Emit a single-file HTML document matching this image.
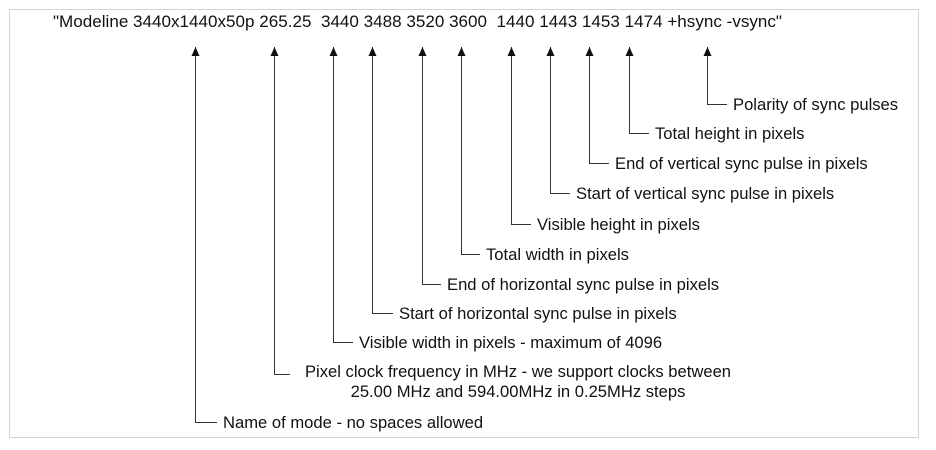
<!DOCTYPE html>
<html><head><meta charset="utf-8"><style>
html,body{margin:0;padding:0;background:#fff;width:936px;height:450px;overflow:hidden}
svg{display:block}
text{font-family:"Liberation Sans",Arial,sans-serif;font-size:16.6px;fill:#111;white-space:pre}
</style></head><body>
<svg width="936" height="450" viewBox="0 0 936 450">
<rect x="9.5" y="9.5" width="909" height="428" fill="#fff" stroke="#d4d4d4" stroke-width="1"/>
<text x="53" y="27" textLength="729" lengthAdjust="spacingAndGlyphs" xml:space="preserve">"Modeline 3440x1440x50p 265.25  3440 3488 3520 3600  1440 1443 1453 1474 +hsync -vsync"</text>
<g stroke="#333" stroke-width="1" fill="none">
<path d="M195.5,47 V422.5 H217" />
<path d="M274.5,47 V374.5 H290" />
<path d="M333.5,47 V342.5 H353" />
<path d="M372.5,47 V313.5 H393" />
<path d="M422.5,47 V284.5 H441" />
<path d="M461.5,47 V254.5 H480" />
<path d="M511.5,47 V224.5 H531" />
<path d="M550.5,47 V193.5 H570" />
<path d="M589.5,47 V163.5 H609" />
<path d="M629.5,47 V133.5 H649" />
<path d="M707.5,47 V104.5 H727" />
</g>
<g fill="#111">
<path d="M191.5,56 L195.5,47 L199.5,56 Z"/>
<path d="M270.5,56 L274.5,47 L278.5,56 Z"/>
<path d="M329.5,56 L333.5,47 L337.5,56 Z"/>
<path d="M368.5,56 L372.5,47 L376.5,56 Z"/>
<path d="M418.5,56 L422.5,47 L426.5,56 Z"/>
<path d="M457.5,56 L461.5,47 L465.5,56 Z"/>
<path d="M507.5,56 L511.5,47 L515.5,56 Z"/>
<path d="M546.5,56 L550.5,47 L554.5,56 Z"/>
<path d="M585.5,56 L589.5,47 L593.5,56 Z"/>
<path d="M625.5,56 L629.5,47 L633.5,56 Z"/>
<path d="M703.5,56 L707.5,47 L711.5,56 Z"/>
</g>
<text x="733" y="110">Polarity of sync pulses</text>
<text x="655" y="139">Total height in pixels</text>
<text x="615" y="169">End of vertical sync pulse in pixels</text>
<text x="576" y="199">Start of vertical sync pulse in pixels</text>
<text x="537" y="230">Visible height in pixels</text>
<text x="486" y="260">Total width in pixels</text>
<text x="447" y="290">End of horizontal sync pulse in pixels</text>
<text x="399" y="319">Start of horizontal sync pulse in pixels</text>
<text x="359" y="348">Visible width in pixels - maximum of 4096</text>
<text x="518" y="377" text-anchor="middle">Pixel clock frequency in MHz - we support clocks between</text>
<text x="518" y="397" text-anchor="middle">25.00 MHz and 594.00MHz in 0.25MHz steps</text>
<text x="223" y="428">Name of mode - no spaces allowed</text>
</svg>
</body></html>
